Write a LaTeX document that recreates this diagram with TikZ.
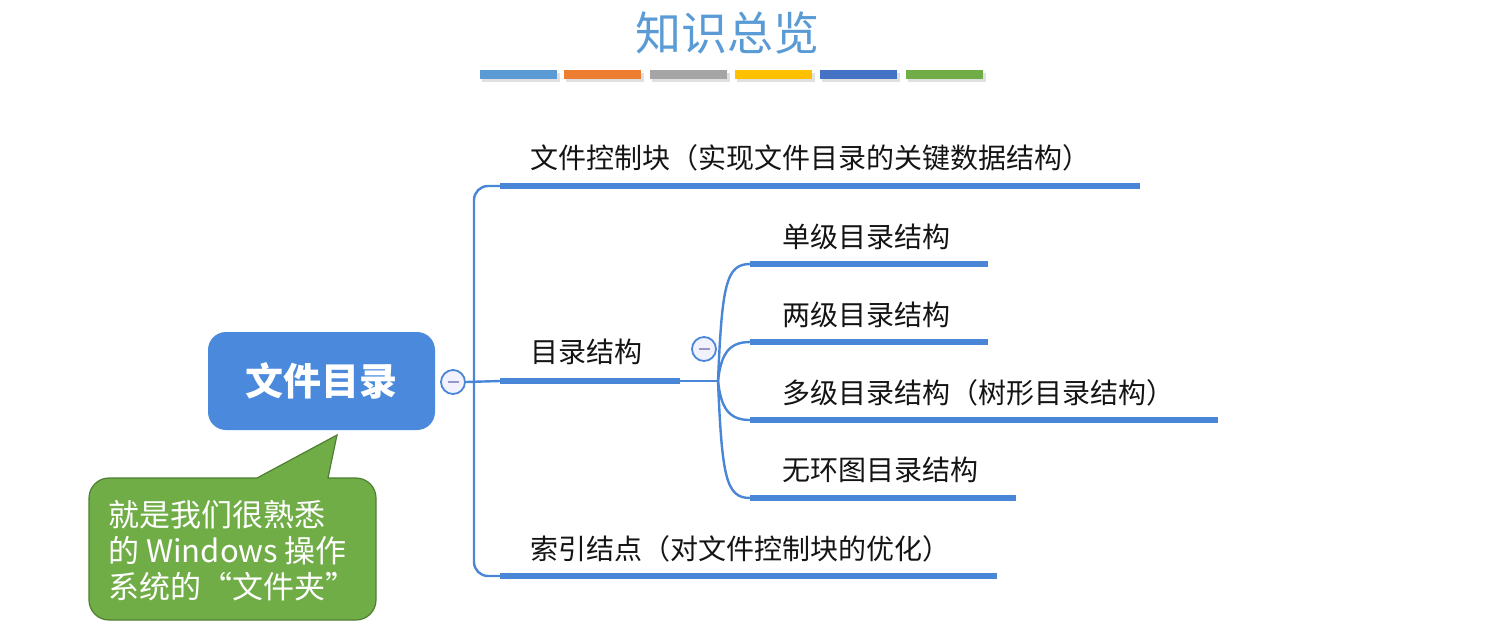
\documentclass[tikz,border=0pt]{standalone}
\usepackage{fontspec}
\setmainfont{Noto Sans CJK SC}
\definecolor{titleblue}{HTML}{5B9BD5}
\definecolor{cA}{HTML}{5B9BD5}
\definecolor{cB}{HTML}{ED7D31}
\definecolor{cC}{HTML}{A5A5A5}
\definecolor{cD}{HTML}{FFC000}
\definecolor{cE}{HTML}{4472C4}
\definecolor{cF}{HTML}{70AD47}
\definecolor{mmblue}{HTML}{4A86D8}
\definecolor{rootblue}{HTML}{4A89DC}
\definecolor{callgreen}{HTML}{70AD47}
\definecolor{callborder}{HTML}{507E32}
\definecolor{minuscol}{HTML}{9A95C8}
\tikzset{
  bar/.style={minimum width=77pt,minimum height=9pt,inner sep=0pt,draw=none},
  barshadow/.style={fill=black!35,opacity=0.35},
  thin/.style={draw=mmblue,line width=2.4pt},
  thick/.style={draw=mmblue,line width=6.5pt},
  lbl/.style={anchor=west,inner sep=0pt,font=\fontsize{28}{30}\selectfont,text=black!92},
  toggle/.style={circle,draw=mmblue,line width=1.8pt,fill=white!95!blue,minimum size=24pt,inner sep=0pt},
}
\begin{document}
\begin{tikzpicture}[x=1pt,y=-1pt]
\useasboundingbox (0,0) rectangle (1500,633);
% title
\node[text=titleblue,font=\fontsize{46}{50}\selectfont] (title) at (727,33) {知识总览};
% colour bars
\foreach \x/\c [count=\i] in {480/cA,564/cB,650/cC,735/cD,820/cE,906/cF}{
  \fill[barshadow] (\x+2,73) rectangle (\x+80,82);
  \node[bar,fill=\c,anchor=north west] (bar\i) at (\x,70) {};
}
% root node
\node[rounded corners=18pt,fill=rootblue,minimum width=227pt,minimum height=98pt,inner sep=0pt,
      text=white,font=\fontsize{38}{42}\selectfont\bfseries] (root) at (321.5,381) {文件目录};
\node[toggle] (t1) at (453,382) {};
\draw[minuscol,line width=1.8pt] ([xshift=-5.5pt]t1.center) -- ([xshift=5.5pt]t1.center);
% main branches
\coordinate (jA) at (474,381);
\coordinate (b1s) at (500,186);
\coordinate (b1e) at (1140,186);
\coordinate (b2s) at (500,381);
\coordinate (b2e) at (680,381);
\coordinate (b3s) at (500,576);
\coordinate (b3e) at (997,576);
\draw[thin,rounded corners=14pt] (b1s) -- (474,186) -- (474,576) -- (b3s);
\draw[thin] (t1.east) -- (b2s);
\draw[thick] (b1s) -- (b1e);
\draw[thick] (b2s) -- (b2e);
\draw[thick] (b3s) -- (b3e);
\node[lbl] (l1) at (530,158) {文件控制块（实现文件目录的关键数据结构）};
\node[lbl] (l2) at (530,352) {目录结构};
\node[lbl] (l3) at (530,549) {索引结点（对文件控制块的优化）};
% sub toggle
\node[toggle] (t2) at (704,349) {};
\draw[minuscol,line width=1.8pt] ([xshift=-5.5pt]t2.center) -- ([xshift=5.5pt]t2.center);
% sub branches
\coordinate (jB) at (718,381);
\draw[thin] (b2e) -- (jB);
\coordinate (s1s) at (750,264); \coordinate (s1e) at (988,264);
\coordinate (s2s) at (750,342); \coordinate (s2e) at (988,342);
\coordinate (s3s) at (750,420); \coordinate (s3e) at (1218,420);
\coordinate (s4s) at (750,498); \coordinate (s4e) at (1016,498);
\draw[thin] (jB) .. controls (722,285) and (726,264) .. (s1s);
\draw[thin] (jB) .. controls (721,355) and (728,342) .. (s2s);
\draw[thin] (jB) .. controls (721,407) and (728,420) .. (s3s);
\draw[thin] (jB) .. controls (722,477) and (726,498) .. (s4s);
\draw[thick] (s1s) -- (s1e);
\draw[thick] (s2s) -- (s2e);
\draw[thick] (s3s) -- (s3e);
\draw[thick] (s4s) -- (s4e);
\node[lbl] (k1) at (782,237) {单级目录结构};
\node[lbl] (k2) at (782,315) {两级目录结构};
\node[lbl] (k3) at (782,393) {多级目录结构（树形目录结构）};
\node[lbl] (k4) at (782,470) {无环图目录结构};
% callout
\draw[fill=callgreen,draw=callborder,line width=1.2pt]
  (257,478) -- (337,435) -- (328,478) -- (345,478)
  [rounded corners=20pt] -- (376,478) -- (376,620) -- (89,620) -- (89,478) -- (235,478)
  [sharp corners] -- cycle;
\node[anchor=west,align=left,inner sep=0pt,text=white,font=\fontsize{31}{36}\selectfont] (calltext) at (108,551)
  {就是我们很熟悉\\的 Windows 操作\\系统的“文件夹”};
\end{tikzpicture}
\end{document}
